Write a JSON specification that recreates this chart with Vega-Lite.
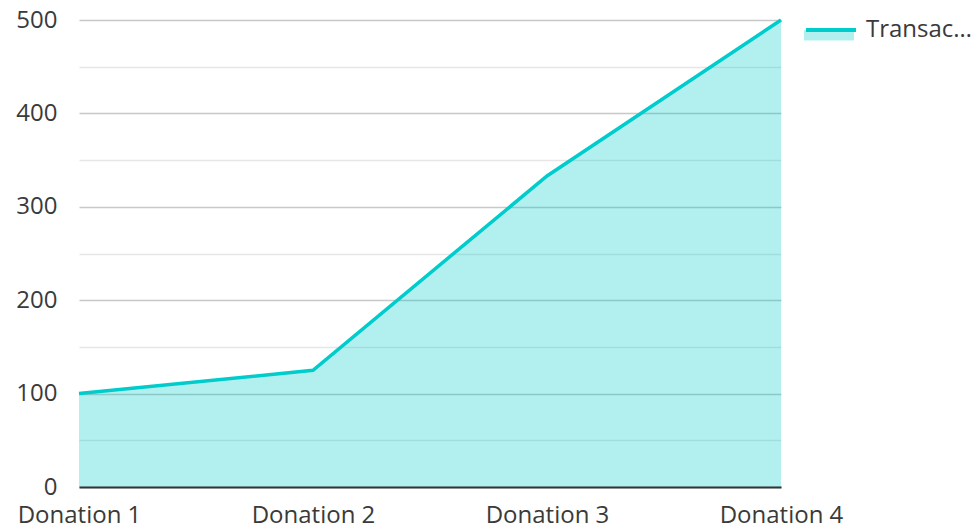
{
  "$schema": "https://vega.github.io/schema/vega-lite/v6.json",
  "width": 702,
  "height": 467,
  "autosize": {"type": "none"},
  "padding": {"left": 79, "top": 20, "right": 195, "bottom": 41},
  "config": {
    "font": "Open Sans",
    "view": {"stroke": null},
    "legend": {"padding": 0}
  },
  "data": {
    "values": [
      {"donation": "Donation 1", "value": 100, "series": "Transactions"},
      {"donation": "Donation 2", "value": 125, "series": "Transactions"},
      {"donation": "Donation 3", "value": 333, "series": "Transactions"},
      {"donation": "Donation 4", "value": 500, "series": "Transactions"}
    ]
  },
  "encoding": {
    "x": {
      "field": "donation",
      "type": "ordinal",
      "scale": {"type": "point", "padding": 0},
      "axis": {
        "title": null,
        "labelAngle": 0,
        "labelFontSize": 24,
        "labelColor": "#3a3a3a",
        "labelPadding": 16,
        "labelOverlap": false,
        "ticks": false,
        "grid": false,
        "domainColor": "#333333",
        "domainWidth": 2,
        "zindex": 1
      }
    },
    "y": {
      "field": "value",
      "type": "quantitative",
      "scale": {"domain": [0, 500], "nice": false},
      "axis": {
        "title": null,
        "values": [0, 50, 100, 150, 200, 250, 300, 350, 400, 450, 500],
        "labelExpr": "datum.value % 100 === 0 ? datum.label : ''",
        "labelFontSize": 24,
        "labelColor": "#3a3a3a",
        "labelPadding": 22,
        "ticks": false,
        "domain": false,
        "gridColor": {"condition": {"test": "datum.value % 100 === 0", "value": "#c8c8c8"}, "value": "#e6e6e6"},
        "gridWidth": 1.5
      }
    }
  },
  "layer": [
    {
      "mark": {"type": "area", "opacity": 0.3},
      "encoding": {
        "fill": {
          "field": "series",
          "type": "nominal",
          "scale": {"range": ["#00cccc"]},
          "legend": {
            "title": null,
            "orient": "none",
            "legendX": 725,
            "legendY": -17,
            "symbolType": "M-1,0.08H1V0.5H-1Z",
            "symbolSize": 2500,
            "symbolOpacity": 0.3,
            "symbolStrokeWidth": 0,
            "labelFontSize": 24,
            "labelExpr": "''"
          }
        }
      }
    },
    {
      "mark": {"type": "line", "strokeWidth": 3.5},
      "encoding": {
        "stroke": {
          "field": "series",
          "type": "nominal",
          "scale": {"range": ["#00cccc"]},
          "legend": {
            "title": null,
            "orient": "none",
            "legendX": 725,
            "legendY": -17,
            "symbolType": "stroke",
            "symbolSize": 2500,
            "symbolStrokeWidth": 4,
            "labelFontSize": 24,
            "labelOffset": 8,
            "labelColor": "#3a3a3a",
            "labelLimit": 114
          }
        }
      }
    }
  ]
}
